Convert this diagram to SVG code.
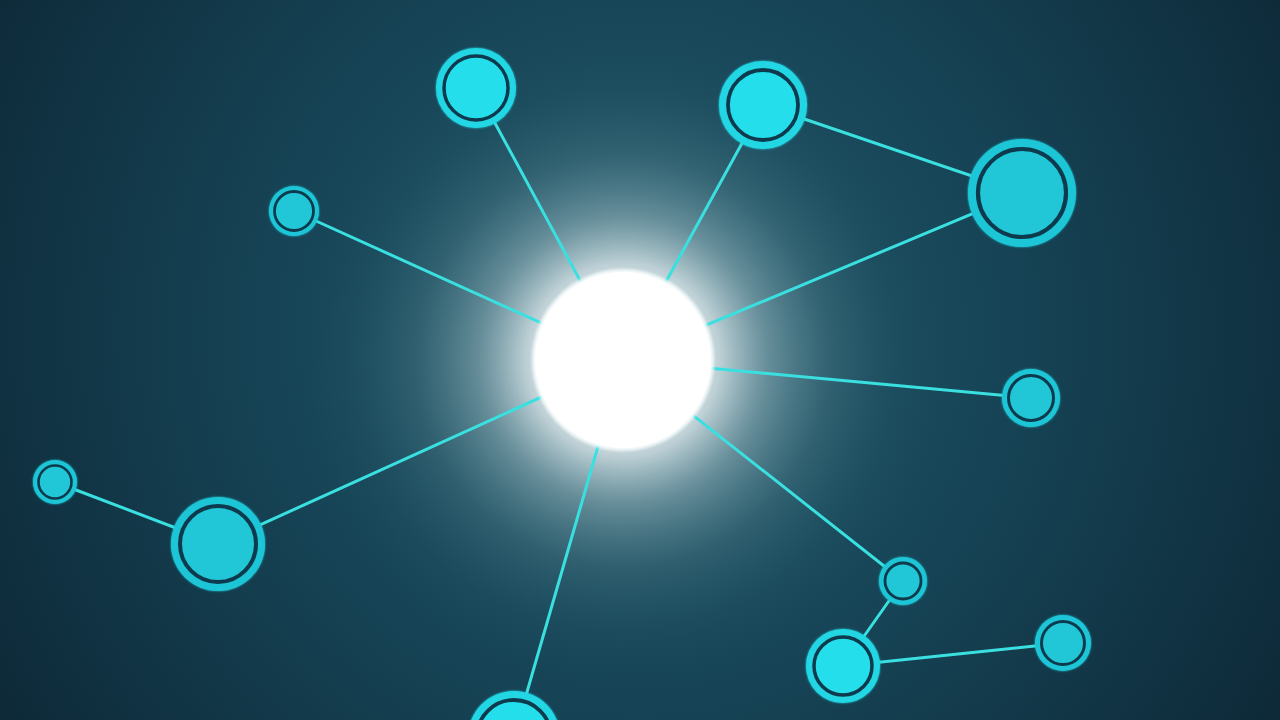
<svg xmlns="http://www.w3.org/2000/svg" width="1280" height="720" viewBox="0 0 1280 720">
<style>
.edge{stroke:#3ae0e0;stroke-width:3;stroke-linecap:round;fill:none}
.outer{fill:#1ec6d6;filter:url(#ng)}
.ring{fill:#22c7d7;stroke:#0e3a4d}
.hot .outer{fill:#20d6e4}
.hot .ring{fill:#24dfeb}
</style>
<defs>
<radialGradient id="bg" cx="640" cy="330" r="820" gradientUnits="userSpaceOnUse">
<stop offset="0" stop-color="#22596a"/>
<stop offset="0.45" stop-color="#164456"/>
<stop offset="1" stop-color="#0c2432"/>
</radialGradient>
<radialGradient id="glow" cx="623" cy="360" r="320" gradientUnits="userSpaceOnUse">
<stop offset="0" stop-color="#ffffff" stop-opacity="0.95"/>
<stop offset="0.3" stop-color="#e6f0f2" stop-opacity="0.8"/>
<stop offset="0.45" stop-color="#b0ccd2" stop-opacity="0.5"/>
<stop offset="0.65" stop-color="#6f9ba6" stop-opacity="0.25"/>
<stop offset="0.85" stop-color="#3f7584" stop-opacity="0.08"/>
<stop offset="1" stop-color="#2a6070" stop-opacity="0"/>
</radialGradient>
<filter id="ng" x="-30%" y="-30%" width="160%" height="160%">
<feGaussianBlur in="SourceGraphic" stdDeviation="1.2" result="b"/>
<feMerge><feMergeNode in="b"/><feMergeNode in="SourceGraphic"/></feMerge>
</filter>
<filter id="soft" x="-20%" y="-20%" width="140%" height="140%">
<feGaussianBlur stdDeviation="1.5"/>
</filter>
</defs>
<rect width="1280" height="720" fill="url(#bg)"/>
<circle cx="623" cy="360" r="320" fill="url(#glow)"/>
<g id="connectors">
<line class="edge" x1="623" y1="360" x2="476" y2="88"/>
<line class="edge" x1="623" y1="360" x2="763" y2="105"/>
<line class="edge" x1="623" y1="360" x2="1022" y2="193"/>
<line class="edge" x1="623" y1="360" x2="294" y2="211"/>
<line class="edge" x1="623" y1="360" x2="1031" y2="398"/>
<line class="edge" x1="623" y1="360" x2="218" y2="544"/>
<line class="edge" x1="623" y1="360" x2="903" y2="581"/>
<line class="edge" x1="623" y1="360" x2="514" y2="737"/>
<line class="edge" x1="763" y1="105" x2="1022" y2="193"/>
<line class="edge" x1="55" y1="482" x2="218" y2="544"/>
<line class="edge" x1="903" y1="581" x2="843" y2="666"/>
<line class="edge" x1="843" y1="666" x2="1063" y2="643"/>
</g>
<g id="n1" class="hot"><circle class="outer" cx="476" cy="88" r="40"/><circle class="ring" cx="476" cy="88" r="32" stroke-width="3.5"/></g>
<g id="n2" class="hot"><circle class="outer" cx="763" cy="105" r="44"/><circle class="ring" cx="763" cy="105" r="35" stroke-width="3.8"/></g>
<g id="n3"><circle class="outer" cx="1022" cy="193" r="54"/><circle class="ring" cx="1022" cy="193" r="44" stroke-width="4.2"/></g>
<g id="n4"><circle class="outer" cx="294" cy="211" r="25"/><circle class="ring" cx="294" cy="211" r="19.5" stroke-width="2.8"/></g>
<g id="n5"><circle class="outer" cx="1031" cy="398" r="29"/><circle class="ring" cx="1031" cy="398" r="22.5" stroke-width="3"/></g>
<g id="n6"><circle class="outer" cx="55" cy="482" r="22"/><circle class="ring" cx="55" cy="482" r="16.5" stroke-width="2.6"/></g>
<g id="n7"><circle class="outer" cx="218" cy="544" r="47"/><circle class="ring" cx="218" cy="544" r="38" stroke-width="4"/></g>
<g id="n8"><circle class="outer" cx="903" cy="581" r="24"/><circle class="ring" cx="903" cy="581" r="18" stroke-width="2.8"/></g>
<g id="n9" class="hot"><circle class="outer" cx="843" cy="666" r="37"/><circle class="ring" cx="843" cy="666" r="29" stroke-width="3.5"/></g>
<g id="n10"><circle class="outer" cx="1063" cy="643" r="28"/><circle class="ring" cx="1063" cy="643" r="21.5" stroke-width="3"/></g>
<g id="n11" class="hot"><circle class="outer" cx="514" cy="737" r="46"/><circle class="ring" cx="514" cy="737" r="37" stroke-width="3.8"/></g>
<g id="center"><circle cx="623" cy="360" r="91" fill="#f4fafb" filter="url(#soft)"/><circle cx="623" cy="360" r="88" fill="#ffffff"/></g>
</svg>
